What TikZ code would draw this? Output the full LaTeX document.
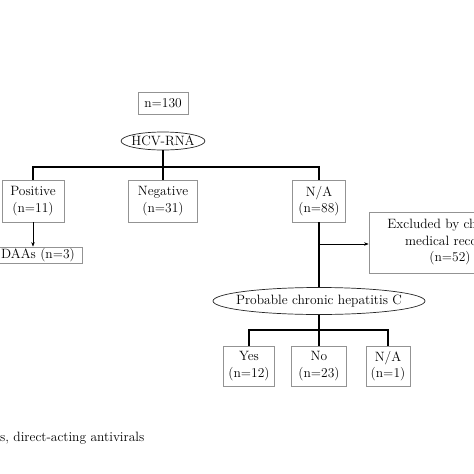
\documentclass[tikz,border=0pt]{standalone}
\usetikzlibrary{shapes.geometric,arrows.meta}
\begin{document}
\begin{tikzpicture}[x=1pt,y=-1pt,
  font=\fontsize{13.5}{16.5}\selectfont,
  box/.style={draw=gray!85, line width=0.8pt, rectangle, align=center, inner sep=0pt},
  oval/.style={draw=black!85, line width=0.7pt, ellipse, inner ysep=0pt},
  conn/.style={line width=1.1pt},
  arr/.style={line width=0.6pt,-{Stealth[length=4.5pt,width=3.5pt]}}]
\useasboundingbox (0,0) rectangle (474,474);
\clip (0,0) rectangle (474,474);
\fill[white] (0,0) rectangle (474,474);
% nodes
\node[box, minimum width=50pt, minimum height=22pt] (n130) at (163,103) {n=130};
\node[oval, inner xsep=-2pt, minimum width=83pt, minimum height=18pt] (hcv) at (163,141) {HCV-RNA};
\node[box, minimum width=62pt, minimum height=42pt] (pos) at (33,201) {Positive\\(n=11)};
\node[box, minimum width=69pt, minimum height=42pt] (neg) at (163,201) {Negative\\(n=31)};
\node[box, minimum width=53pt, minimum height=42pt] (na) at (319,201) {N/A\\(n=88)};
\node[box, minimum width=88pt, minimum height=16pt] (daas) at (38,255) {DAAs (n=3)};
\node[box, minimum width=162pt, minimum height=61pt] (excl) at (450,242.5) {Excluded by checking\\medical records\\(n=52)};
\node[oval, inner xsep=-12pt, minimum width=212pt, minimum height=27pt] (prob) at (319,301) {Probable chronic hepatitis C};
\node[box, minimum width=51pt, minimum height=40pt] (yes) at (249,366) {Yes\\(n=12)};
\node[box, minimum width=55pt, minimum height=40pt] (no) at (319,366) {No\\(n=23)};
\node[box, minimum width=44pt, minimum height=40pt] (na2) at (388,366) {N/A\\(n=1)};
\node[anchor=base west, inner sep=0pt] (cap) at (0,441) {s, direct-acting antivirals};
% connector coordinates
\coordinate (hb) at (163,167);
\coordinate (pb) at (319,330);
\coordinate (ea) at (319,244);
% connectors
\draw[conn] (hcv.south) -- (neg.north);
\draw[conn] (pos.north) -- (pos.north |- hb) -| (na.north);
\draw[conn] (na.south) -- (prob.north);
\draw[conn] (prob.south) -- (no.north);
\draw[conn] (yes.north) -- (yes.north |- pb) -| (na2.north);
\draw[arr] (pos.south) -- (pos.south |- daas.north);
\draw[arr] (ea) -- (excl.west |- ea);
\end{tikzpicture}
\end{document}
